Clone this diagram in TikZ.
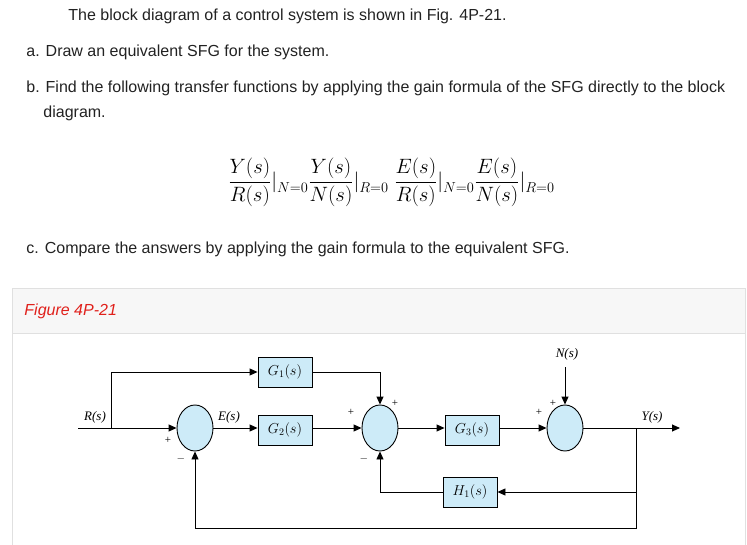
\documentclass[tikz,border=0pt]{standalone}
\usepackage{fontspec}
\setmainfont{Liberation Sans}
\newfontfamily\serf{Liberation Serif}
\usetikzlibrary{arrows.meta,shapes.geometric}
\definecolor{blk}{HTML}{CDEBF8}
\definecolor{figred}{HTML}{E0201B}
\definecolor{txt}{HTML}{222222}
\begin{document}
\begin{tikzpicture}[x=1pt,y=-1pt,
  blockb/.style={draw,fill=blk,minimum width=54pt,minimum height=30pt,inner sep=0pt,font=\serf\itshape\fontsize{14}{16}\selectfont},
  sumb/.style={draw,fill=blk,ellipse,minimum width=36pt,minimum height=46pt,inner sep=0pt},
  sig/.style={font=\serf\itshape\fontsize{13}{15}\selectfont},
  sgn/.style={font=\serf\fontsize{11}{12}\selectfont},
  ar/.style={-{Triangle[length=8pt,width=7pt]}},
  line width=0.9pt]
\useasboundingbox (0,0) rectangle (747,545);
% text
\begin{scope}[every node/.style={anchor=west,inner sep=0pt,text=txt,font=\fontsize{16}{18}\selectfont}]
\node (t0) at (68,16) {The block diagram of a control system is shown in Fig. 4P-21.};
\node (ta) at (26,52) {a. Draw an equivalent SFG for the system.};
\node (tb) at (26,88) {b. Find the following transfer functions by applying the gain formula of the SFG directly to the block};
\node (tb2) at (43,113) {diagram.};
\node (tc) at (26,249) {c. Compare the answers by applying the gain formula to the equivalent SFG.};
\end{scope}
\node[inner sep=0pt,anchor=west,font=\fontsize{20}{24}\selectfont] (eq) at (228,182) {$\displaystyle \frac{Y(s)}{R(s)}\bigg|_{N=0}\frac{Y(s)}{N(s)}\bigg|_{R=0}\;\frac{E(s)}{R(s)}\bigg|_{N=0}\frac{E(s)}{N(s)}\bigg|_{R=0}$};
% figure frame
\draw[line width=0.6pt,draw=black!12,fill=black!3] (12,288) rectangle (745,333);
\draw[line width=0.6pt,draw=black!12] (12,333) -- (12,545) (745,333) -- (745,545);
\node[anchor=west,inner sep=0pt,text=figred,font=\itshape\fontsize{16}{18}\selectfont] (fig) at (24,311) {Figure 4P-21};
% diagram
\node[sumb] (s1) at (195,428) {};
\node[sumb] (s2) at (380,428) {};
\node[sumb] (s3) at (565,428) {};
\node[blockb] (g1) at (285,372) {$G_1(s)$};
\node[blockb] (g2) at (285,430) {$G_2(s)$};
\node[blockb] (g3) at (472,430) {$G_3(s)$};
\node[blockb] (h1) at (470,492) {$H_1(s)$};
\coordinate (rin) at (78,428);
\coordinate (rb) at (111,428);
\coordinate (yb) at (636,428);
\coordinate (yout) at (680,428);
\coordinate (nin) at (565,367);
\node[sig,anchor=south] (rl) at (95,427) {R(s)};
\node[sig,anchor=south] (el) at (229,427) {E(s)};
\node[sig,anchor=south] (yl) at (652,427) {Y(s)};
\node[sig,anchor=south] (nl) at (567,364) {N(s)};
\draw (rin) -- (rb);
\draw[ar] (rb) -- (s1.west);
\draw[ar] (rb) |- (g1.west);
\draw[ar] (s1.east) -- (g2.west |- s1.east);
\draw[ar] (g2.east |- s2.west) -- (s2.west);
\draw[ar] (g1.east) -| (s2.north);
\draw[ar] (s2.east) -- (g3.west |- s2.east);
\draw[ar] (g3.east |- s3.west) -- (s3.west);
\draw[ar] (nin) -- (s3.north);
\draw[ar] (s3.east) -- (yout);
\draw[ar] (yb) |- (h1.east);
\draw[ar] (h1.west) -| (s2.south);
\draw[ar] (yb) -- (636,528) -| (s1.south);
\node[sgn] (p1) at (168,440) {+};
\node[sgn] (m1) at (181,459) {$-$};
\node[sgn] (p2) at (351,412) {+};
\node[sgn] (p3) at (395,403) {+};
\node[sgn] (m2) at (364,459) {$-$};
\node[sgn] (p4) at (539,412) {+};
\node[sgn] (p5) at (553,403) {+};
\end{tikzpicture}
\end{document}
